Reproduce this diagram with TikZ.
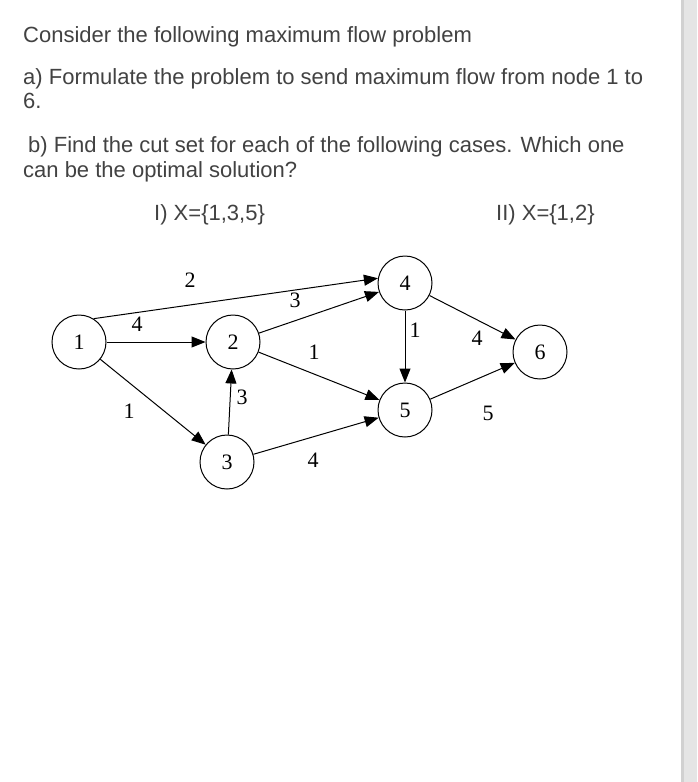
\documentclass[tikz,border=0pt]{standalone}
\usepackage{fontspec}
\setmainfont{Liberation Sans}
\newfontfamily\serifg{Liberation Serif}
\usetikzlibrary{arrows.meta}
\definecolor{txt}{HTML}{424242}
\begin{document}
\begin{tikzpicture}[x=1pt,y=-1pt,
  tl/.style={anchor=base west,inner sep=0pt,text=txt,font=\fontsize{22}{26}\selectfont},
  vtx/.style={circle,draw,line width=1pt,minimum size=54pt,inner sep=0pt,font=\serifg\fontsize{22}{26}\selectfont},
  arc/.style={line width=1pt,-{Triangle[length=14pt,width=11pt]}},
  lab/.style={font=\serifg\fontsize{22}{26}\selectfont,inner sep=0pt}]
\useasboundingbox (0,0) rectangle (697,782);
\fill[white] (0,0) rectangle (697,782);
\fill[black!10] (681,0) rectangle (697,782);
\fill[black!18] (681,0) rectangle (684,782);
\node[tl] (t1) at (23,42) {Consider the following maximum flow problem};
\node[tl] (t2) at (23,84) {a) Formulate the problem to send maximum flow from node 1 to};
\node[tl] (t3) at (23,108) {6.};
\node[tl] (t4) at (28,152) {b) Find the cut set for each of the following cases. Which one};
\node[tl] (t5) at (23,177) {can be the optimal solution?};
\node[tl] (t6) at (154,220) {I) X=\{1,3,5\}};
\node[tl] (t7) at (496,220) {II) X=\{1,2\}};
\node[vtx] (n1) at (79,342) {1};
\node[vtx] (n2) at (233,342) {2};
\node[vtx] (n3) at (227,462) {3};
\node[vtx] (n4) at (405,283) {4};
\node[vtx] (n5) at (405,410) {5};
\node[vtx] (n6) at (540,352) {6};
\draw[arc] (n1.58) -- (n4.170);
\draw[arc] (n1) -- (n2);
\draw[arc] (n1) -- (n3);
\draw[arc] (n2) -- (n4);
\draw[arc] (n2) -- (n5);
\draw[arc] (n3) -- (n2);
\draw[arc] (n3) -- (n5);
\draw[arc] (n4) -- (n5);
\draw[arc] (n4) -- (n6);
\draw[arc] (n5) -- (n6);
\node[lab] (l14) at (190,280) {2};
\node[lab] (l12) at (137,324) {4};
\node[lab] (l13) at (129,411) {1};
\node[lab] (l24) at (295,300) {3};
\node[lab] (l25) at (314,352) {1};
\node[lab] (l32) at (242,397) {3};
\node[lab] (l35) at (313,460) {4};
\node[lab] (l45) at (415,330) {1};
\node[lab] (l46) at (477,338) {4};
\node[lab] (l56) at (488,413) {5};
\end{tikzpicture}
\end{document}
